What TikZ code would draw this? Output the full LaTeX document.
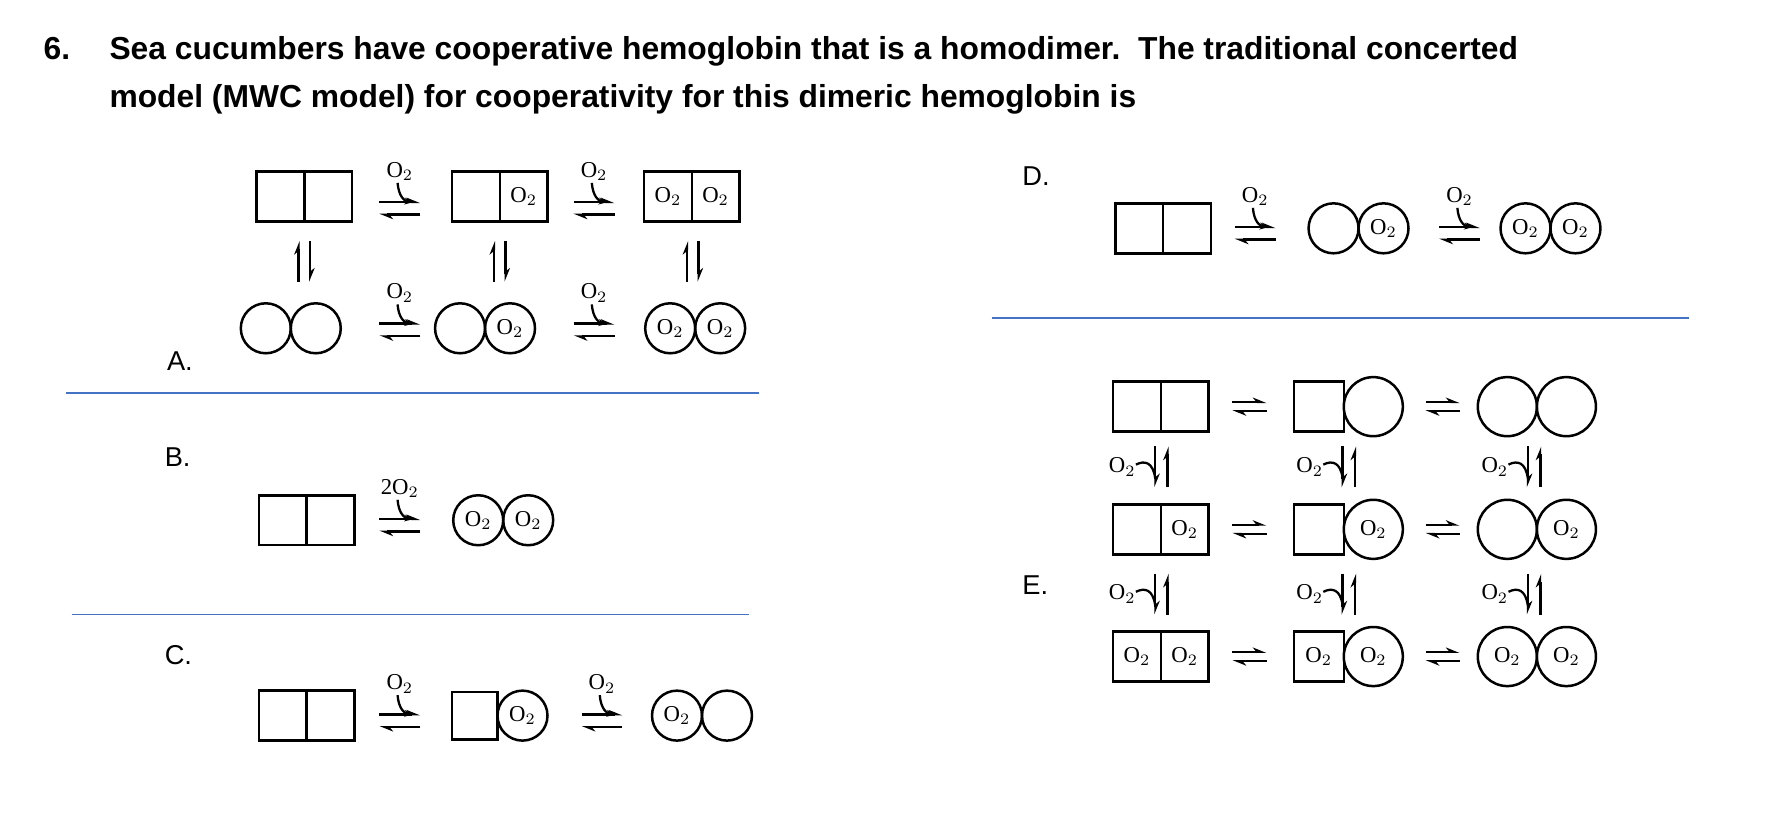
\documentclass[tikz,border=0pt]{standalone}
\usepackage{fontspec}
\setmainfont{Liberation Sans}
\newfontfamily\tms{Liberation Serif}
\usetikzlibrary{arrows.meta}
\definecolor{sep}{HTML}{4472C4}
\newlength{\pxu}\setlength{\pxu}{0.5pt}
\tikzset{
 half/.style={draw,line width=1.1pt,minimum width=42\pxu,minimum height=44\pxu,inner sep=0pt,font=\tms\fontsize{10}{10}\selectfont},
 circ/.style={draw,line width=1.1pt,circle,minimum size=44\pxu,inner sep=0pt,font=\tms\fontsize{10}{10}\selectfont},
 hp/.style={line width=1.1pt,-{Stealth[harpoon,length=5pt,width=4pt]}},
 lab/.style={font=\fontsize{12}{12}\selectfont,anchor=west},
 oxy/.style={font=\tms\fontsize{10}{10}\selectfont,inner sep=0pt},
 sepl/.style={sep,line width=0.8pt}
}
\newcommand\Ox{O$_2$}
\newcommand\eqh[3]{%
 \draw[hp] (#1-18,#2+5) -- (#1+18,#2+5);
 \draw[hp] (#1+18,#2+16) -- (#1-18,#2+16);
 \if\relax\detokenize{#3}\relax\else
 \node[oxy] at (#1,#2-22) {#3};
 \draw[line width=1pt,-{Stealth[length=4pt,width=3pt]}] (#1-2,#2-12) .. controls (#1-1,#2) and (#1+4,#2+4) .. (#1+12,#2+5);
 \fi}
\newcommand\eqs[2]{%
 \draw[hp] (#1-15,#2-4) -- (#1+15,#2-4);
 \draw[hp] (#1+15,#2+4) -- (#1-15,#2+4);}
\newcommand\eqv[2]{%
 \draw[hp] (#1-5,#2+18) -- (#1-5,#2-18);
 \draw[hp] (#1+5,#2-18) -- (#1+5,#2+18);}
\newcommand\eqvo[2]{%
 \draw[hp] (#1-5,#2-18) -- (#1-5,#2+18);
 \draw[hp] (#1+6,#2+18) -- (#1+6,#2-18);
 \node[oxy] at (#1-34,#2) {\Ox};
 \draw[line width=1pt] (#1-22,#2-2) .. controls (#1-14,#2-6) and (#1-7,#2-4) .. (#1-5,#2+10);}
\begin{document}
\begin{tikzpicture}[x=0.5pt,y=-0.5pt]
\useasboundingbox (0,0) rectangle (1560,718);
\node[anchor=base west,font=\bfseries\fontsize{14}{14}\selectfont,inner sep=0pt] (n6) at (38,52) {6.};
\node[anchor=base west,font=\bfseries\fontsize{14}{14}\selectfont,inner sep=0pt] (t1) at (96,52) {Sea cucumbers have cooperative hemoglobin that is a homodimer.\ \ The traditional concerted};
\node[anchor=base west,font=\bfseries\fontsize{14}{14}\selectfont,inner sep=0pt] (t2) at (96,95) {model (MWC model) for cooperativity for this dimeric hemoglobin is};
% ---------- A
\node[lab] (la) at (140,318) {A.};
\node[half] (a11) at (247,173) {}; \node[half] (a12) at (289,173) {};
\eqh{352}{173}{\Ox}
\node[half] (a21) at (419,173) {}; \node[half] (a22) at (461,173) {\Ox};
\eqh{523}{173}{\Ox}
\node[half] (a31) at (588,173) {\Ox}; \node[half] (a32) at (630,173) {\Ox};
\eqv{268}{230}\eqv{440}{230}\eqv{610}{230}
\node[circ] (a41) at (234,289) {}; \node[circ] (a42) at (278,289) {};
\eqh{352}{280}{\Ox}
\node[circ] (a51) at (405,289) {}; \node[circ] (a52) at (449,289) {\Ox};
\eqh{523}{280}{\Ox}
\node[circ] (a61) at (590,289) {\Ox}; \node[circ] (a62) at (634,289) {\Ox};
\draw[sepl] (58,346) -- (668,346);
% ---------- B
\node[lab] (lb) at (138,402) {B.};
\node[half] (b11) at (249,458) {}; \node[half] (b12) at (291,458) {};
\eqh{352}{452}{2\Ox}
\node[circ] (b21) at (421,458) {\Ox}; \node[circ] (b22) at (465,458) {\Ox};
\draw[sepl] (63,541) -- (659,541);
% ---------- C
\node[lab] (lc) at (138,577) {C.};
\node[half] (c11) at (249,630) {}; \node[half] (c12) at (291,630) {};
\eqh{352}{624}{\Ox}
\node[half,minimum width=40\pxu,minimum height=42\pxu] (c21) at (418,630) {}; \node[circ] (c22) at (460,630) {\Ox};
\eqh{530}{624}{\Ox}
\node[circ] (c31) at (596,630) {\Ox}; \node[circ] (c32) at (640,630) {};
% ---------- D
\node[lab] (ld) at (893,155) {D.};
\node[half] (d11) at (1003,201) {}; \node[half] (d12) at (1045,201) {};
\eqh{1105}{195}{\Ox}
\node[circ] (d21) at (1174,201) {}; \node[circ] (d22) at (1218,201) {\Ox};
\eqh{1285}{195}{\Ox}
\node[circ] (d31) at (1343,201) {\Ox}; \node[circ] (d32) at (1387,201) {\Ox};
\draw[sepl] (873,280) -- (1487,280);
% ---------- E
\node[lab] (le) at (893,515) {E.};
\node[half] (e11) at (1001,358) {}; \node[half] (e12) at (1043,358) {};
\node[half,minimum width=44\pxu] (e13) at (1161,358) {}; \node[circ,minimum size=52\pxu] (e14) at (1209,358) {};
\node[circ,minimum size=52\pxu] (e15) at (1327,358) {}; \node[circ,minimum size=52\pxu] (e16) at (1379,358) {};
\eqs{1100}{358}\eqs{1270}{358}
\eqvo{1022}{411}\eqvo{1187}{411}\eqvo{1350}{411}
\node[half] (e21) at (1001,466) {}; \node[half] (e22) at (1043,466) {\Ox};
\node[half,minimum width=44\pxu] (e23) at (1161,466) {}; \node[circ,minimum size=52\pxu] (e24) at (1209,466) {\Ox};
\node[circ,minimum size=52\pxu] (e25) at (1327,466) {}; \node[circ,minimum size=52\pxu] (e26) at (1379,466) {\Ox};
\eqs{1100}{466}\eqs{1270}{466}
\eqvo{1022}{523}\eqvo{1187}{523}\eqvo{1350}{523}
\node[half] (e31) at (1001,578) {\Ox}; \node[half] (e32) at (1043,578) {\Ox};
\node[half,minimum width=44\pxu] (e33) at (1161,578) {\Ox}; \node[circ,minimum size=52\pxu] (e34) at (1209,578) {\Ox};
\node[circ,minimum size=52\pxu] (e35) at (1327,578) {\Ox}; \node[circ,minimum size=52\pxu] (e36) at (1379,578) {\Ox};
\eqs{1100}{578}\eqs{1270}{578}
\end{tikzpicture}
\end{document}
